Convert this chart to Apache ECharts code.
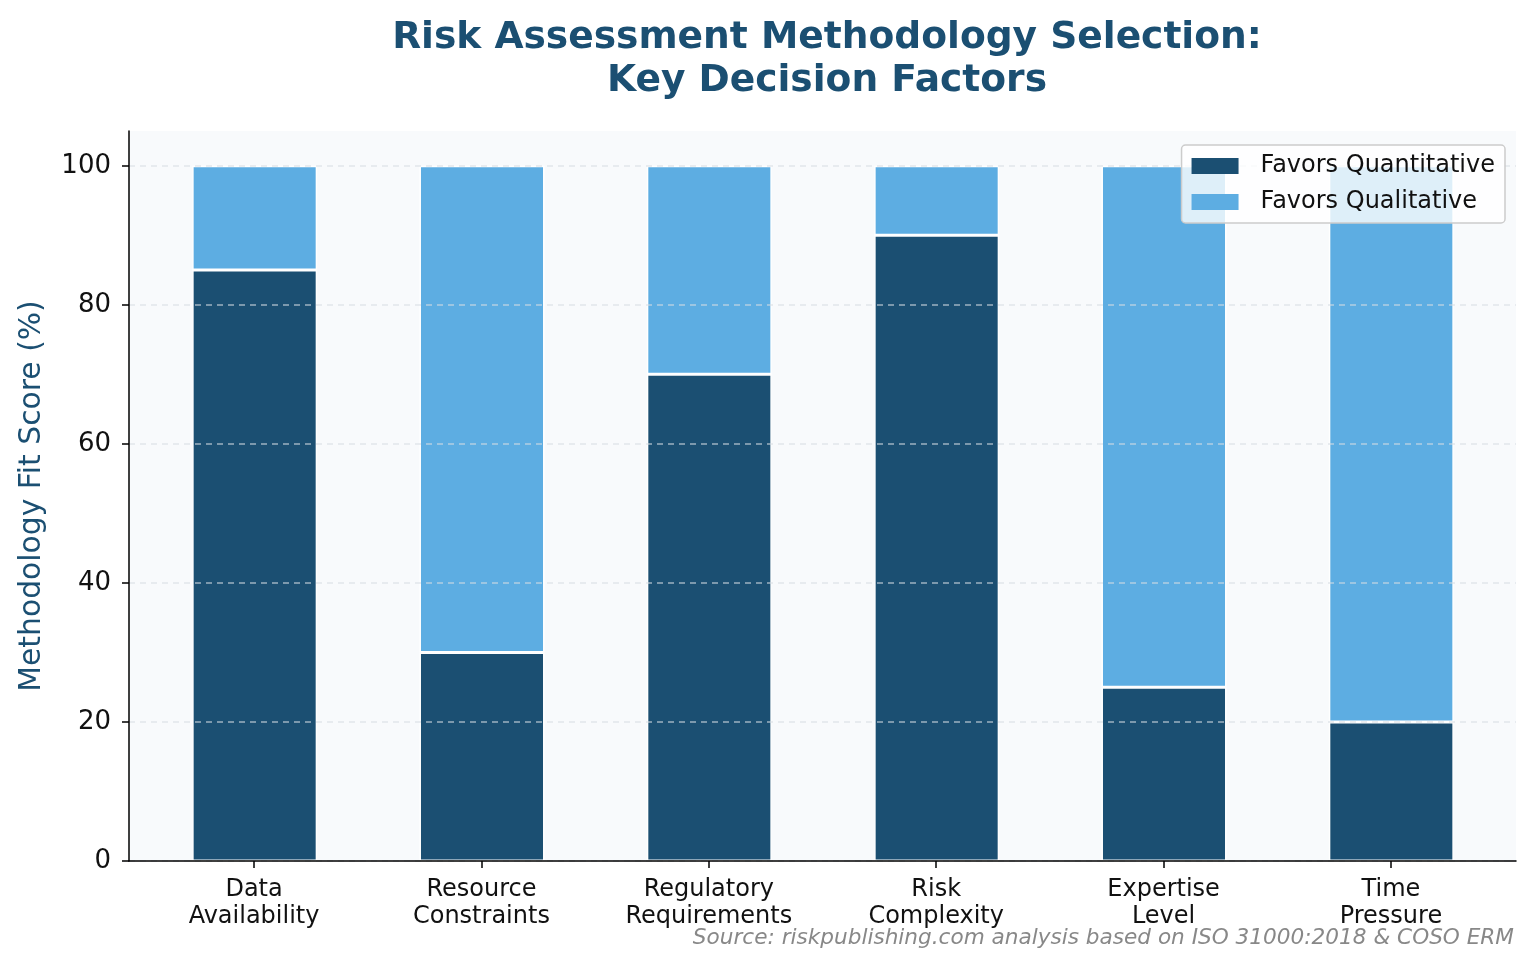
<!DOCTYPE html>
<html>
<head>
<meta charset="utf-8">
<script src="https://cdn.jsdelivr.net/npm/echarts@6/dist/echarts.min.js"></script>
<style>
html,body{margin:0;padding:0;background:#fff;}
#chart{width:1536px;height:967px;}
</style>
</head>
<body>
<div id="chart"></div>
<script>
const categories = ['Data\nAvailability', 'Resource\nConstraints', 'Regulatory\nRequirements', 'Risk\nComplexity', 'Expertise\nLevel', 'Time\nPressure'];
const quantitative = [85, 30, 70, 90, 25, 20];
const qualitative = [15, 70, 30, 10, 75, 80];
const yTicks = [0, 20, 40, 60, 80, 100];
const seriesNames = ['Favors Quantitative', 'Favors Qualitative'];
const titleText = 'Risk Assessment Methodology Selection:\nKey Decision Factors';
const yAxisTitle = 'Methodology Fit Score (%)';
const sourceText = 'Source: riskpublishing.com analysis based on ISO 31000:2018 & COSO ERM';

const catIdx = categories.map((c, i) => i);
const font = 'DejaVu Sans';
const chart = echarts.init(document.getElementById('chart'), null, {renderer: 'canvas'});
chart.setOption({
  animation: false,
  backgroundColor: '#ffffff',
  title: {
    text: titleText,
    left: 822, top: 12, textAlign: 'center',
    textStyle: {fontFamily: font, fontWeight: 'bold', fontSize: 37.6, color: '#1b4f72', lineHeight: 43}
  },
  legend: {
    orient: 'vertical', right: 31, top: 145, z: 30,
    icon: 'rect', itemWidth: 47, itemHeight: 16, itemGap: 10,
    backgroundColor: 'rgba(255,255,255,0.8)', borderColor: '#cccccc', borderWidth: 1.5, borderRadius: 4,
    padding: [8, 10, 8, 10],
    textStyle: {fontFamily: font, fontSize: 24, color: '#111111', lineHeight: 26, padding: [0, 0, 0, 17]},
    data: seriesNames.map(n => ({name: n, itemStyle: {borderWidth: 0}}))
  },
  grid: [
    {left: 141, right: 31, top: 131, bottom: 106, show: false},
    {left: 129, right: 20, top: 131, bottom: 106, show: true, backgroundColor: '#f8fafc', borderWidth: 0}
  ],
  xAxis: [
    {
      type: 'category', gridIndex: 0, data: categories, boundaryGap: true,
      axisLine: {show: false}, axisTick: {show: false}, axisLabel: {show: false}, splitLine: {show: false}
    },
    {
      type: 'value', gridIndex: 1, min: -0.55, max: 5.55, z: 12,
      axisLine: {show: true, onZero: false, lineStyle: {color: '#000', width: 1.5}},
      axisTick: {show: true, customValues: catIdx, length: 7, lineStyle: {color: '#000', width: 1.5}},
      axisLabel: {customValues: catIdx, formatter: v => categories[Math.round(v)], fontFamily: font, fontSize: 24, color: '#111', lineHeight: 27, margin: 15},
      splitLine: {show: false}
    }
  ],
  yAxis: [
    {
      type: 'value', gridIndex: 0, min: 0, max: 105,
      axisLine: {show: false}, axisTick: {show: false}, axisLabel: {show: false}, splitLine: {show: false}
    },
    {
      type: 'value', gridIndex: 1, min: 0, max: 105, z: 10,
      name: yAxisTitle, nameLocation: 'middle', nameGap: 82,
      nameTextStyle: {fontFamily: font, fontSize: 29.8, color: '#1b4f72'},
      axisLine: {show: true, onZero: false, lineStyle: {color: '#000', width: 1.5}},
      axisTick: {show: true, customValues: yTicks, length: 7, lineStyle: {color: '#000', width: 1.5}},
      axisLabel: {customValues: yTicks, fontFamily: font, fontSize: 26, color: '#111', margin: 18},
      splitLine: {show: true, lineStyle: {type: [6, 5], color: 'rgba(215,220,226,0.7)', width: 1.5}}
    }
  ],
  series: [
    {
      name: seriesNames[0], type: 'bar', stack: 'total', barWidth: '55%', xAxisIndex: 0, yAxisIndex: 0,
      itemStyle: {color: '#1b4f72', borderColor: '#ffffff', borderWidth: 1.5},
      data: quantitative
    },
    {
      name: seriesNames[1], type: 'bar', stack: 'total', barWidth: '55%', xAxisIndex: 0, yAxisIndex: 0,
      itemStyle: {color: '#5dade2', borderColor: '#ffffff', borderWidth: 1.5},
      data: qualitative
    }
  ],
  graphic: [{
    type: 'text', right: 22, bottom: 18, z: 100,
    style: {text: sourceText, fontFamily: font, fontStyle: 'italic', fontSize: 21.6, fill: '#888888'}
  }]
});
</script>
</body>
</html>
